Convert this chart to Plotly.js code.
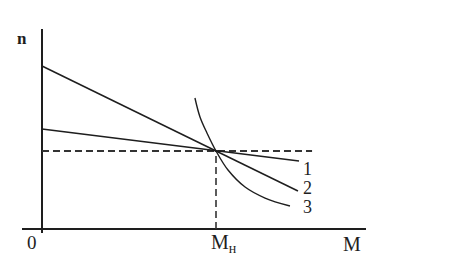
<!DOCTYPE html>
<html>
<head>
<meta charset="utf-8">
<script src="https://cdn.plot.ly/plotly-3.0.1.min.js"></script>
<style>html,body{margin:0;padding:0;background:#fff;}#chart{width:472px;height:280px;}</style>
</head>
<body>
<div id="chart"></div>
<script>
// Characteristic 1 (soft slope)
const line1X = [0, 1.477];
const line1Y = [1.282, 0.872];
// Characteristic 2 (steeper)
const line2X = [0, 1.471];
const line2Y = [2.09, 0.487];
// Characteristic 3 (hyperbolic curve)
const curve3X = [0.879, 0.908, 0.948, 1.0, 1.069, 1.167, 1.282, 1.425];
const curve3Y = [1.679, 1.436, 1.231, 1.0, 0.756, 0.538, 0.397, 0.295];
// Rated point
const ratedM = 1.0;
const ratedN = 1.0;
const hDashEnd = 1.552;
const curveLabels = ['1', '2', '3'];
const axisLabels = {n: 'n', zero: '0', mh: 'M<sub>н</sub>', m: 'M'};

const ink = '#1e1e1e';
const font = {family: 'Liberation Serif, Times New Roman, serif', size: 19, color: ink};

const traces = [
  {x: [0, hDashEnd], y: [ratedN, ratedN], mode: 'lines', line: {color: '#333', width: 2, dash: '7px,4px'}, hoverinfo: 'skip'},
  {x: [ratedM, ratedM], y: [0, ratedN], mode: 'lines', line: {color: '#333', width: 1.6, dash: '7px,4px'}, hoverinfo: 'skip'},
  {x: line1X, y: line1Y, mode: 'lines', line: {color: ink, width: 1.5}},
  {x: line2X, y: line2Y, mode: 'lines', line: {color: ink, width: 1.5}},
  {x: curve3X, y: curve3Y, mode: 'lines', line: {color: ink, width: 1.4, shape: 'spline', smoothing: 1.0}}
];

const ann = (x, y, text, opts) => Object.assign({x, y, xref: 'x', yref: 'y', text, showarrow: false, font: font, xanchor: 'center', yanchor: 'middle'}, opts || {});
const pann = (x, y, text, opts) => Object.assign({x, y, xref: 'paper', yref: 'paper', text, showarrow: false, font: font, xanchor: 'center', yanchor: 'middle'}, opts || {});

const layout = {
  width: 472, height: 280,
  margin: {l: 22, r: 106, t: 29, b: 47, pad: 0},
  paper_bgcolor: '#fff', plot_bgcolor: '#fff',
  showlegend: false,
  xaxis: {range: [-0.1149, 1.862], showgrid: false, showticklabels: false, ticks: '', zeroline: true, zerolinecolor: ink, zerolinewidth: 1.5, showline: false, fixedrange: true},
  yaxis: {range: [-0.0513, 2.564], showgrid: false, showticklabels: false, ticks: '', zeroline: true, zerolinecolor: ink, zerolinewidth: 1.5, showline: false, fixedrange: true},
  annotations: [
    pann(0.0, 0.951, axisLabels.n, {font: Object.assign({}, font, {size: 17, weight: 'bold'})}),
    pann(0.029, -0.049, axisLabels.zero),
    pann(0.587, -0.052, axisLabels.mh, {font: Object.assign({}, font, {size: 20})}),
    pann(0.959, -0.054, axisLabels.m, {font: Object.assign({}, font, {size: 20})}),
    ann(1.523, 0.769, curveLabels[0], {font: Object.assign({}, font, {size: 18})}),
    ann(1.523, 0.526, curveLabels[1], {font: Object.assign({}, font, {size: 18})}),
    ann(1.523, 0.282, curveLabels[2], {font: Object.assign({}, font, {size: 18})})
  ]
};

Plotly.newPlot('chart', traces, layout, {staticPlot: true, displayModeBar: false});
</script>
</body>
</html>
